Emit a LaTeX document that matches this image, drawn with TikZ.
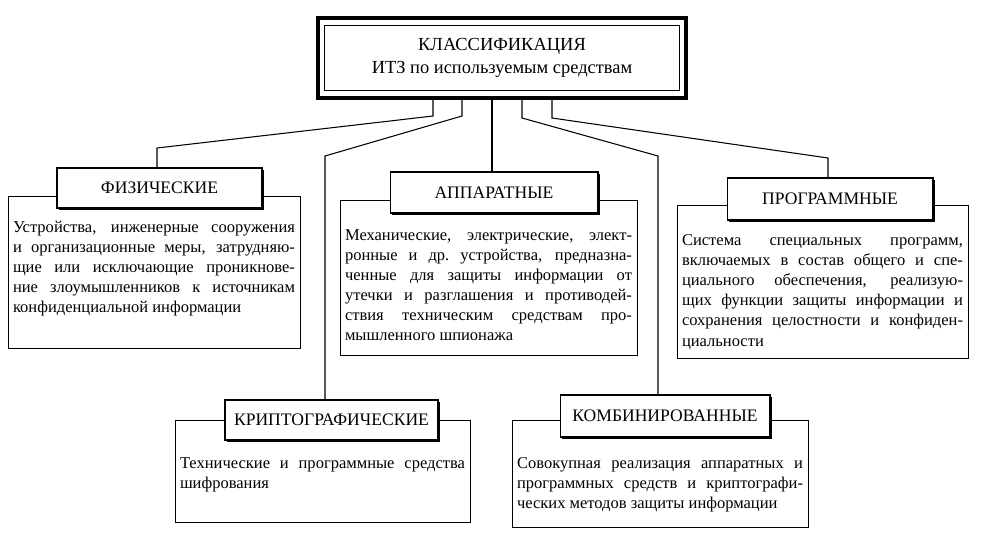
\documentclass[tikz,border=0pt]{standalone}
\usepackage{fontspec}
\setmainfont{Liberation Serif}
\usetikzlibrary{shadows}
\tikzset{
    HD/.style ={rectangle, draw, fill=white, line width=0.6pt, font=\fontsize{10}{12}\selectfont,
        drop shadow={opacity=1, fill=black, shadow xshift=1.3pt, shadow yshift=-1.3pt}},
    BX/.style ={rectangle, draw, line width=0.5pt},
    TX/.style ={anchor=north, inner sep=0pt, align=justify, font=\fontsize{9.4}{11.4}\selectfont},
    LN/.style ={line width=0.6pt}}
\begin{document}
\begin{tikzpicture}[x=0.02cm, y=-0.02cm]
        \useasboundingbox (0,0) rectangle (986,538);
        % connectors
        \draw[LN] (433,98) -- (433,116) -- (157,148) -- (157,168);
        \draw[LN] (462,98) -- (462,116) -- (325,156) -- (325,400);
        \draw[LN] (492,98) -- (492,172);
        \draw[LN] (522,98) -- (522,118) -- (658,156) -- (658,396);
        \draw[LN] (552,98) -- (552,118) -- (828,158) -- (828,178);
        % title
        \node[BX, line width=2.2pt, minimum width=7.36cm, minimum height=1.6cm, fill=white] (title) at (502,58) {};
        \node[BX, minimum width=7.1cm, minimum height=1.3cm, align=center,
            font=\fontsize{10.5}{13}\selectfont] (titlein) at (502,58)
            {КЛАССИФИКАЦИЯ\\ИТЗ по используемым средствам};
        % bodies
        \node[BX, minimum width=5.84cm, minimum height=3.04cm] (phys) at (154,272) {};
        \node[BX, minimum width=5.94cm, minimum height=3.1cm] (hard) at (488.5,277.5) {};
        \node[BX, minimum width=5.82cm, minimum height=3.06cm] (prog) at (822.5,281.5) {};
        \node[BX, minimum width=5.9cm, minimum height=2.04cm] (crypt) at (322.5,471) {};
        \node[BX, minimum width=5.92cm, minimum height=2.14cm] (comb) at (660,473.5) {};
        % headers
        \node[HD, minimum width=4.1cm, minimum height=0.8cm] (physh) at (159.5,188) {ФИЗИЧЕСКИЕ};
        \node[HD, minimum width=4.16cm, minimum height=0.82cm] (hardh) at (494,192.5) {АППАРАТНЫЕ};
        \node[HD, minimum width=4.12cm, minimum height=0.84cm] (progh) at (830,199) {ПРОГРАММНЫЕ};
        \node[HD, minimum width=4.26cm, minimum height=0.8cm] (crypth) at (331.5,420) {КРИПТОГРАФИЧЕСКИЕ};
        \node[HD, minimum width=4.2cm, minimum height=0.84cm] (combh) at (665,416) {КОМБИНИРОВАННЫЕ};
        % texts
        \node[TX, text width=5.64cm] (physt) at ([yshift=-0.5cm]phys.north)
            {Устройства, инженерные сооружения\linebreak и организационные меры, затрудняю-\linebreak щие или исключающие проникнове-\linebreak ние злоумышленников к источникам\linebreak конфиденциальной информации};
        \node[TX, text width=5.74cm] (hardt) at ([yshift=-0.6cm]hard.north)
            {Механические, электрические, элект-\linebreak ронные и др.\ устройства, предназна-\linebreak ченные для защиты информации от\linebreak утечки и разглашения и противодей-\linebreak ствия техническим средствам про-\linebreak мышленного шпионажа};
        \node[TX, text width=5.62cm] (progt) at ([yshift=-0.6cm]prog.north)
            {Система специальных программ,\linebreak включаемых в состав общего и спе-\linebreak циального обеспечения, реализую-\linebreak щих функции защиты информации и\linebreak сохранения целостности и конфиден-\linebreak циальности};
        \node[TX, text width=5.7cm] (cryptt) at ([yshift=-0.76cm]crypt.north)
            {Технические и программные средства\linebreak шифрования};
        \node[TX, text width=5.72cm] (combt) at ([yshift=-0.76cm]comb.north)
            {Совокупная реализация аппаратных и\linebreak программных средств и криптографи-\linebreak ческих методов защиты информации};
\end{tikzpicture}
\end{document}
